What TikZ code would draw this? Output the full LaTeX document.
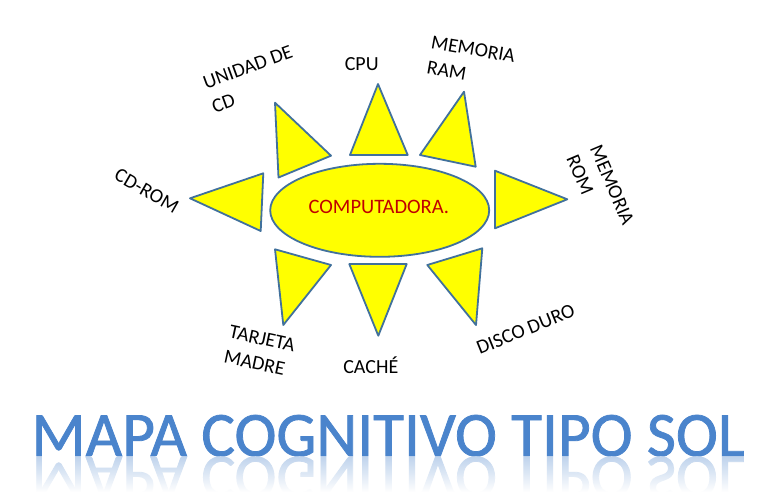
\documentclass[tikz,border=0pt]{standalone}
\usepackage{fontspec}
\setmainfont{Carlito}
\newfontfamily\titlefont[FakeBold=1.2]{Carlito}
\usetikzlibrary{shapes.geometric,fadings}
\definecolor{rayfill}{RGB}{255,255,0}
\definecolor{rayline}{RGB}{65,113,156}
\definecolor{suntext}{RGB}{192,0,0}
\definecolor{titleblue}{RGB}{74,132,204}
\tikzfading[name=fade down, top color=transparent!100, bottom color=transparent!0]

\begin{document}
\begin{tikzpicture}[x=1pt,y=-1pt,
        ray/.style={draw=rayline,fill=rayfill,line width=1.8pt,line join=round},
        raytext/.style={font=\fontsize{20}{25.5}\selectfont,align=left,inner sep=0pt},
        titletext/.style={font=\titlefont\fontsize{63.3}{70}\selectfont,inner sep=0pt,anchor=base}]
    \useasboundingbox[fill=white] (0,0) rectangle (768,501);

    \node[ellipse,draw=rayline,fill=rayfill,line width=1.8pt,minimum width=219pt,minimum height=93pt,inner sep=0pt] (sun) at (379.7,210.3) {};
    \node[font=\fontsize{20.5}{22}\selectfont,text=suntext,anchor=base,inner sep=0pt] (computadora) at (378.8,213.3) {COMPUTADORA.};

    \draw[ray] (190,198.3) -- (263.3,173.3) -- (260.7,231) -- cycle;
    \draw[ray] (275,102.7) -- (278.5,177.5) -- (331,155.7) -- cycle;
    \draw[ray] (378,84) -- (350,155) -- (407.7,155) -- cycle;
    \draw[ray] (464,91.7) -- (420,155) -- (475.7,166.7) -- cycle;
    \draw[ray] (495,170.7) -- (495,228.3) -- (567.3,199.3) -- cycle;
    \draw[ray] (275,249.3) -- (331,265) -- (283.3,325) -- cycle;
    \draw[ray] (349.3,264) -- (406.7,264) -- (378.3,335.7) -- cycle;
    \draw[ray] (427.3,265) -- (482.3,248.3) -- (476,325) -- cycle;

    \node[raytext,rotate=-30] (cdrom) at (146.7,190.7) {CD-ROM};
    \node[raytext,rotate=20] (unidad) at (252.1,79.2) {UNIDAD DE\\CD};
    \node[raytext,anchor=base] (cpu) at (361.7,70.7) {CPU};
    \node[raytext,rotate=-10] (ram) at (471.1,61.6) {MEMORIA\\RAM};
    \node[raytext,rotate=-67] (rom) at (600.4,189.8) {MEMORIA\\ROM};
    \node[raytext,rotate=-12] (tarjeta) at (259.6,351) {TARJETA\\MADRE};
    \node[raytext,anchor=base] (cache) at (370.8,373.3) {CACHÉ};
    \node[raytext,rotate=22] (disco) at (525.7,329.3) {DISCO DURO};

    % title and its reflection
    \node[titletext,text=titleblue] (title) at (388,456) {MAPA COGNITIVO TIPO SOL};
    \begin{scope}[shift={(388,457)},yscale=-1,transform shape]
        \node[titletext,text=titleblue!35] (mirror) at (0,0) {MAPA COGNITIVO TIPO SOL};
    \end{scope}
    \fill[white,path fading=fade down] (0,457) rectangle (768,492);
    \fill[white] (0,492) rectangle (768,501);
\end{tikzpicture}
\end{document}
